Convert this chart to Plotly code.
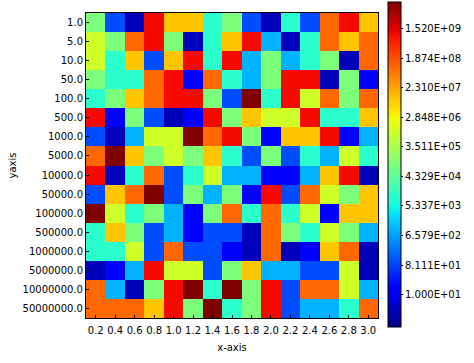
import numpy as np
import plotly.graph_objects as go

x_vals = [0.2, 0.4, 0.6, 0.8, 1.0, 1.2, 1.4, 1.6, 1.8, 2.0, 2.2, 2.4, 2.6, 2.8, 3.0]
y_labels = ["1.0", "5.0", "10.0", "50.0", "100.0", "500.0", "1000.0", "5000.0",
            "10000.0", "50000.0", "100000.0", "500000.0", "1000000.0",
            "5000000.0", "10000000.0", "50000000.0"]

# log10 of the cell values
log_values = [
    [5, 2, 0.5, 9, 7, 7, 4, 5, 2, 0.5, 4, 2, 8, 9, 7],
    [6, 5, 8, 9, 5, 0.5, 4, 7, 9, 3, 0.5, 4, 8, 7, 8],
    [6, 4, 7, 2, 7, 9, 4, 9, 3, 5, 3, 4, 5, 0.5, 8],
    [5, 4, 4, 8, 9, 1.1, 8, 4, 3, 5, 9, 9, 0.5, 5, 1.1],
    [4, 5, 7, 8, 9, 9, 5, 2, 10, 4, 9, 6, 8, 5, 8],
    [9, 1.1, 5, 2, 0.5, 1.1, 9, 5, 7, 6, 6, 9, 4, 4, 7],
    [2, 0.5, 3, 6, 6, 10, 8, 9, 5, 1.1, 7, 7, 9, 1.1, 3],
    [8, 10, 7, 5, 6, 5, 7, 4, 2, 5, 2, 4, 3, 6, 4],
    [9, 0.5, 4, 8, 2, 4, 6, 3, 3, 1.1, 1.1, 3, 7, 9, 0.5],
    [2, 7, 8, 10, 2, 5, 3, 5, 1.1, 9, 2, 8, 6, 5, 7],
    [10, 6, 4, 5, 3, 1.1, 5, 8, 4, 8, 4, 6, 1.1, 7, 7],
    [4, 7, 5, 2, 3, 1.1, 2, 2, 0.5, 8, 5, 4, 6, 5, 3],
    [4, 4, 6, 2, 8, 2, 2, 1.1, 0.5, 8, 0.5, 1.1, 7, 8, 0.5],
    [0.5, 1.1, 3, 9, 6, 6, 2, 5, 7, 3, 3, 2, 2, 6, 0.5],
    [8, 3, 0.5, 5, 9, 10, 4, 10, 5, 9, 2, 8, 8, 6, 3],
    [8, 8, 8, 7, 9, 5, 10, 4, 5, 9, 2, 3, 3, 4, 8],
]

cbar_exponents = [1 + k * 10 / 11 for k in range(10)]
cbar_labels = ["1.000E+01", "8.111E+01", "6.579E+02", "5.337E+03", "4.329E+04",
               "3.511E+05", "2.848E+06", "2.310E+07", "1.874E+08", "1.520E+09"]

# matplotlib "jet" colormap
def jet_scale():
    red = [(0, 0), (0.35, 0), (0.66, 1), (0.89, 1), (1, 0.5)]
    green = [(0, 0), (0.125, 0), (0.375, 1), (0.64, 1), (0.91, 0), (1, 0)]
    blue = [(0, 0.5), (0.11, 1), (0.34, 1), (0.65, 0), (1, 0)]
    pts = sorted(set([p for p, _ in red + green + blue]))
    def interp(seg, t):
        xs = [a for a, _ in seg]
        ys = [b for _, b in seg]
        return float(np.interp(t, xs, ys))
    out = []
    for t in pts:
        r, g, b = (interp(red, t), interp(green, t), interp(blue, t))
        out.append([t, f"rgb({round(r*255)},{round(g*255)},{round(b*255)})"])
    return out

fig = go.Figure(go.Heatmap(
    x=x_vals, y=y_labels, z=log_values,
    zmin=0, zmax=10, colorscale=jet_scale(),
    xgap=0, ygap=0,
    colorbar=dict(
        tickvals=cbar_exponents, ticktext=cbar_labels,
        thickness=13, thicknessmode="pixels",
        len=325, lenmode="pixels",
        x=1.0333, xanchor="left", xpad=0,
        y=0.503, yanchor="middle", ypad=0,
        outlinecolor="black", outlinewidth=1,
        ticks="outside", ticklen=2, tickcolor="black",
        tickfont=dict(family="DejaVu Sans", size=10, color="black"),
    ),
))

fig.update_layout(
    width=474, height=363,
    margin=dict(l=82, r=92, t=12, b=32),
    paper_bgcolor="white", plot_bgcolor="white",
    font=dict(family="DejaVu Sans", size=10, color="black"),
    xaxis=dict(
        title=dict(text="x-axis", font=dict(size=10), standoff=8),
        tickvals=x_vals, ticktext=[f"{v:.1f}" for v in x_vals],
        range=[0.1, 3.1], showgrid=False, zeroline=False,
        showline=True, mirror=True, linecolor="black", linewidth=1,
        ticks="inside", ticklen=3, tickcolor="black",
        ticklabelstandoff=3,
    ),
    yaxis=dict(
        title=dict(text="yaxis", font=dict(size=10), standoff=4),
        type="category", autorange="reversed", showgrid=False, zeroline=False,
        showline=True, mirror=True, linecolor="black", linewidth=1,
        ticks="inside", ticklen=3, tickcolor="black",
    ),
)

fig.write_html("out.html", config={"displayModeBar": False},
               post_script="document.body.style.margin='0';")
